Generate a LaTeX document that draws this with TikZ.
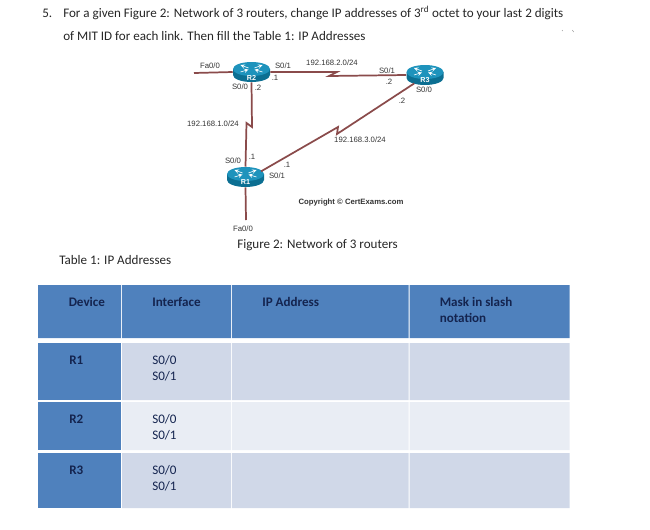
\documentclass[tikz,border=0pt]{standalone}
\usepackage{fontspec}
\setmainfont{Carlito}
\newfontfamily\netfont{Liberation Sans}
\usetikzlibrary{shapes.geometric}
\definecolor{headblue}{HTML}{4F81BD}
\definecolor{rowdark}{HTML}{D0D8E8}
\definecolor{rowlight}{HTML}{E9EDF4}
\definecolor{headtext}{HTML}{14244F}
\definecolor{linkred}{HTML}{8A4B4B}
\definecolor{routertop}{HTML}{1E93BC}
\definecolor{routerbody}{HTML}{0C6F92}
\tikzset{
  txt/.style={anchor=base west,inner sep=0pt,font=\fontsize{9.8}{11}\selectfont,text=black!85},
  headtxt/.style={txt,font=\fontsize{9.8}{11}\selectfont\bfseries,text=headtext},
  netlbl/.style={inner sep=0pt,font=\netfont\fontsize{5.8}{6}\selectfont,text=black!80},
  link/.style={draw=linkred,line width=1.3pt},
  routerbox/.style={ellipse,minimum width=27.75pt,minimum height=15pt,inner sep=0pt},
  routertxt/.style={inner sep=0pt,font=\netfont\bfseries\fontsize{5.4}{6}\selectfont,text=white},
  pics/routerpic/.style={code={
    \fill[routerbody] (-18.5,-3) -- (-18.5,3) arc[start angle=180,end angle=0,x radius=18.5,y radius=7]
      -- (18.5,-3) -- cycle ;
    \fill[routertop] (0,-3) ellipse [x radius=18.5,y radius=7] ;
    \draw[white,line width=.45pt,->,>=stealth] (-3,-4) -- (-11,-7) ;
    \draw[white,line width=.45pt,->,>=stealth] (-11,0) -- (-3,-2.5) ;
    \draw[white,line width=.45pt,->,>=stealth] (3,-4) -- (11,-7) ;
    \draw[white,line width=.45pt,->,>=stealth] (11,0) -- (3,-2.5) ;
  }}
}
\begin{document}
\begin{tikzpicture}[x=0.75pt,y=-0.75pt]
  \useasboundingbox (0,0) rectangle (650,529) ;
  % question text
  \node[txt] (qnum) at (42,17) {5.} ;
  \node[txt] (qone) at (63,17) {For a given Figure 2: Network of 3 routers, change IP addresses of 3\textsuperscript{rd} octet to your last 2 digits} ;
  \node[txt] (qtwo) at (63,40) {of MIT ID for each link. Then fill the Table 1: IP Addresses} ;
  \draw[black!60,line width=.3pt] (562,30) -- (562.5,31) (572.5,30) -- (573.5,32) ;
  % routers
  \foreach \name/\x/\y in {R1/245.5/177,R2/251.5/72,R3/425/75}{
    \pic at (\x,\y) {routerpic} ;
    \node[routerbox] (\name) at (\x,\y) {} ;
    \node[routertxt] (\name txt) at (\x,\y+5.5) {\name} ;
  }
  % links
  \coordinate (fatwo) at (194,73) ;
  \coordinate (faone) at (246,220) ;
  \draw[link] (fatwo) -- (R2.west) ;
  \draw[link] (R1.south) -- (faone) ;
  \coordinate (zza) at (337,72) ;
  \coordinate (zzb) at (329,76) ;
  \draw[link] (R2.east) -- (zza) -- (zzb) -- (R3.west) ;
  \coordinate (zzc) at (252,127) ;
  \coordinate (zzd) at (246.5,123) ;
  \draw[link] (R2.south) -- (zzc) -- (zzd) -- (R1.north) ;
  \coordinate (zze) at (338,127) ;
  \coordinate (zzf) at (337,134) ;
  \draw[link] (R1.20) -- (zze) -- (zzf) -- (R3.218) ;
  % labels of the network
  \node[netlbl] (fatwol) at (210,66) {Fa0/0} ;
  \node[netlbl] (stwoa) at (240,86.5) {S0/0} ;
  \node[netlbl] (stwob) at (283,66) {S0/1} ;
  \node[netlbl] (dtwoa) at (258,88) {.2} ;
  \node[netlbl] (dtwob) at (275,78) {.1} ;
  \node[netlbl] (netb) at (332,63) {192.168.2.0/24} ;
  \node[netlbl] (sthb) at (387,71) {S0/1} ;
  \node[netlbl] (dthb) at (389,82) {.2} ;
  \node[netlbl] (stha) at (424,90) {S0/0} ;
  \node[netlbl] (dtha) at (402,101) {.2} ;
  \node[netlbl] (neta) at (213,124) {192.168.1.0/24} ;
  \node[netlbl] (netc) at (360,140) {192.168.3.0/24} ;
  \node[netlbl] (sonea) at (233,161) {S0/0} ;
  \node[netlbl] (donea) at (252,157) {.1} ;
  \node[netlbl] (doneb) at (287,165) {.1} ;
  \node[netlbl] (soneb) at (277,176) {S0/1} ;
  \node[netlbl] (copy) at (351,203) {\bfseries Copyright \textcopyright{} CertExams.com} ;
  \node[netlbl] (faonel) at (243,229) {Fa0/0} ;
  % captions
  \node[txt] (figcap) at (237,248) {Figure 2: Network of 3 routers} ;
  \node[txt] (tabcap) at (59,264) {Table 1: IP Addresses} ;
  % table
  \fill[headblue] (38,285) rectangle (121,338) (122,285) rectangle (231,338)
    (232,285) rectangle (408.5,338) (409.5,285) rectangle (569.5,338) ;
  \foreach \top/\bot/\shade/\dev in {343/400/rowdark/R1,402/450/rowlight/R2,453/508/rowdark/R3}{
    \fill[headblue] (38,\top) rectangle (121,\bot) ;
    \fill[\shade] (122,\top) rectangle (231,\bot) (232,\top) rectangle (408.5,\bot)
      (409.5,\top) rectangle (569.5,\bot) ;
  }
  \node[headtxt] (hdev) at (68.5,306) {Device} ;
  \node[headtxt] (hint) at (152,306) {Interface} ;
  \node[headtxt] (hip) at (262,306) {IP Address} ;
  \node[headtxt] (hmask) at (439.5,306) {Mask in slash} ;
  \node[headtxt] (hnot) at (439.5,322) {notation} ;
  \foreach \name/\y in {R1/364,R2/423,R3/474}{
    \node[headtxt] (dev\name) at (69,\y) {\name} ;
    \node[txt,text=headtext] (sa\name) at (152,\y) {S0/0} ;
    \node[txt,text=headtext] (sb\name) at (152,\y+16) {S0/1} ;
  }
\end{tikzpicture}
\end{document}
